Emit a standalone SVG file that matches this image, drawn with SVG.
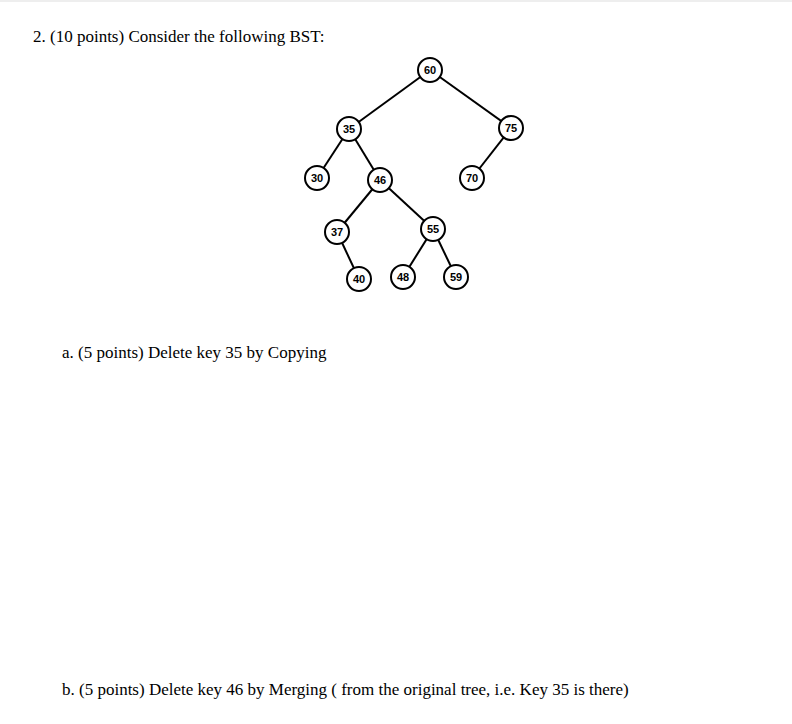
<svg xmlns="http://www.w3.org/2000/svg" width="792" height="724" viewBox="0 0 792 724">
<style>
.t{font-family:"Liberation Serif",serif;font-size:17px;fill:#000}
.n circle{fill:#fff;stroke:#000;stroke-width:2}
.n text{font-family:"Liberation Sans",Arial,sans-serif;font-size:11px;font-weight:bold;text-anchor:middle;fill:#000}
#edges line{stroke:#000;stroke-width:2}
</style>
<rect width="792" height="724" fill="#fff"/>
<line x1="0" y1="1" x2="792" y2="1" stroke="#ddd"/>
<text class="t" x="33" y="42">2.  (10 points) Consider the following BST:</text>
<g id="edges">
<line x1="430" y1="70" x2="349" y2="129"/>
<line x1="430" y1="70" x2="511" y2="128"/>
<line x1="349" y1="129" x2="317" y2="178"/>
<line x1="349" y1="129" x2="380" y2="180"/>
<line x1="511" y1="128" x2="472" y2="178"/>
<line x1="380" y1="180" x2="337" y2="232"/>
<line x1="380" y1="180" x2="433" y2="229"/>
<line x1="337" y1="232" x2="359" y2="279"/>
<line x1="433" y1="229" x2="403" y2="277"/>
<line x1="433" y1="229" x2="456" y2="277"/>
</g>
<g id="n60" class="n"><circle cx="430" cy="70" r="12"/><text x="430" y="74">60</text></g>
<g id="n35" class="n"><circle cx="349" cy="129" r="12"/><text x="349" y="133">35</text></g>
<g id="n75" class="n"><circle cx="511" cy="128" r="12"/><text x="511" y="132">75</text></g>
<g id="n30" class="n"><circle cx="317" cy="178" r="12"/><text x="317" y="182">30</text></g>
<g id="n46" class="n"><circle cx="380" cy="180" r="12"/><text x="380" y="184">46</text></g>
<g id="n70" class="n"><circle cx="472" cy="178" r="12"/><text x="472" y="182">70</text></g>
<g id="n37" class="n"><circle cx="337" cy="232" r="12"/><text x="337" y="236">37</text></g>
<g id="n55" class="n"><circle cx="433" cy="229" r="12"/><text x="433" y="233">55</text></g>
<g id="n40" class="n"><circle cx="359" cy="279" r="12"/><text x="359" y="283">40</text></g>
<g id="n48" class="n"><circle cx="403" cy="277" r="12"/><text x="403" y="281">48</text></g>
<g id="n59" class="n"><circle cx="456" cy="277" r="12"/><text x="456" y="281">59</text></g>
<text class="t" x="62" y="358">a.   (5 points) Delete key 35 by Copying</text>
<text class="t" x="62" y="695">b.   (5 points) Delete key 46 by Merging ( from the original tree, i.e. Key 35 is there)</text>
</svg>
